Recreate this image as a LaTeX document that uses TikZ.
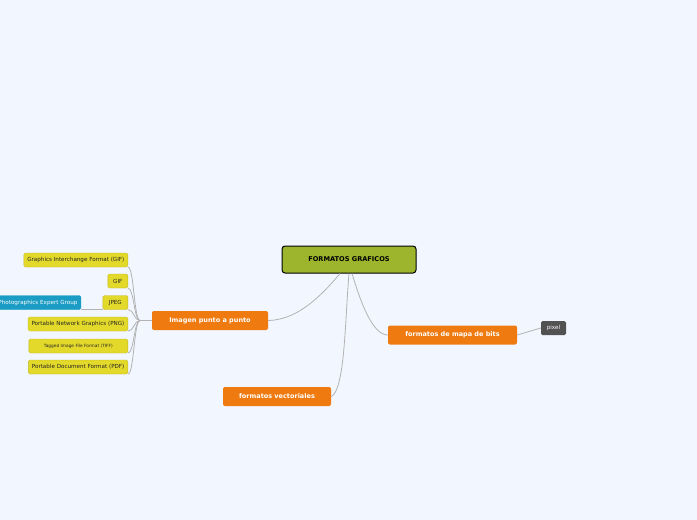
\documentclass[tikz,border=0pt]{standalone}
\usepackage{fontspec}
\usetikzlibrary{calc}
\setmainfont{DejaVu Sans}
\begin{document}
\begin{tikzpicture}[x=1pt,y=-1pt,
 conn/.style={draw=black!30,line width=0.8pt},
 main/.style={fill=orange!95!red,text=white,font=\fontsize{6.5}{7}\selectfont\bfseries,rounded corners=2pt,inner xsep=6pt,minimum height=19pt,inner ysep=0pt},
 leaf/.style={fill=yellow!75!olive!90,draw=yellow!60!olive,line width=0.3pt,text=black!85,font=\fontsize{5.6}{6}\selectfont,rounded corners=1.5pt,inner xsep=3.5pt,minimum height=14pt,inner ysep=0pt},
 ]
\definecolor{bg}{HTML}{F2F6FE}
\definecolor{rootg}{HTML}{9CB52C}
\definecolor{orng}{HTML}{EE7A10}
\definecolor{yl}{HTML}{E3D92A}
\definecolor{bl}{HTML}{1A9CC4}
\fill[bg] (0,0) rectangle (697,520);
\useasboundingbox (0,0) rectangle (697,520);
\tikzset{main/.append style={fill=orng}, leaf/.append style={fill=yl,draw=yl!85!black}}
\node[draw=black,line width=1pt,fill=rootg,rounded corners=3pt,minimum width=134pt,minimum height=27pt,font=\fontsize{6.6}{7}\selectfont\bfseries] (root) at (349,259.5) {FORMATOS GRAFICOS};
\node[main,minimum width=116pt] (img) at (210,320.5) {Imagen punto a punto};
\node[main,minimum width=129pt] (map) at (452.5,335) {formatos de mapa de bits};
\node[main,minimum width=108pt] (vec) at (277,396.5) {formatos vectoriales};
\node[fill=black!68,text=white,font=\fontsize{5.6}{6}\selectfont,rounded corners=1.5pt,minimum width=25pt,minimum height=14pt,inner sep=0pt] (pix) at (553.5,328) {pixel};
\node[leaf,anchor=east] (gif1) at (128,260) {Graphics Interchange Format (GIF)};
\node[leaf,anchor=east,minimum width=20pt] (gif) at (128,281) {GIF};
\node[leaf,anchor=east,minimum width=25pt] (jpeg) at (128,302.5) {JPEG};
\node[leaf,anchor=east,fill=bl,draw=bl,text=white] (jpg2) at (81,302.5) {Joint Photographics Expert Group};
\node[leaf,anchor=east] (png) at (128,324) {Portable Network Graphics (PNG)};
\node[leaf,anchor=east,font=\fontsize{4.3}{5}\selectfont,minimum width=99pt] (tiff) at (128,346) {Tagged Image File Format (TIFF)};
\node[leaf,anchor=east] (pdf) at (128,367) {Portable Document Format (PDF)};
\draw[conn] ([xshift=-9pt]root.south) .. controls (318,300) and (295,320) .. (img.east);
\draw[conn] (root.south) .. controls (345,320) and (345,390) .. (vec.east);
\draw[conn] ([xshift=3pt]root.south) .. controls (360,300) and (372,335) .. (map.west);
\draw[conn] (map.east) -- (pix.west);
\coordinate (hub) at (140,320.5);
\draw[conn] (img.west) -- (hub);
\foreach \n in {gif1,gif,jpeg,png,tiff,pdf}
 \draw[conn] (hub) .. controls (134,320.5) and ($(\n.south east)+(6,0)$) .. (\n.south east);
\draw[conn] (jpg2.south east) -- (jpeg.south west);
\end{tikzpicture}
\end{document}
